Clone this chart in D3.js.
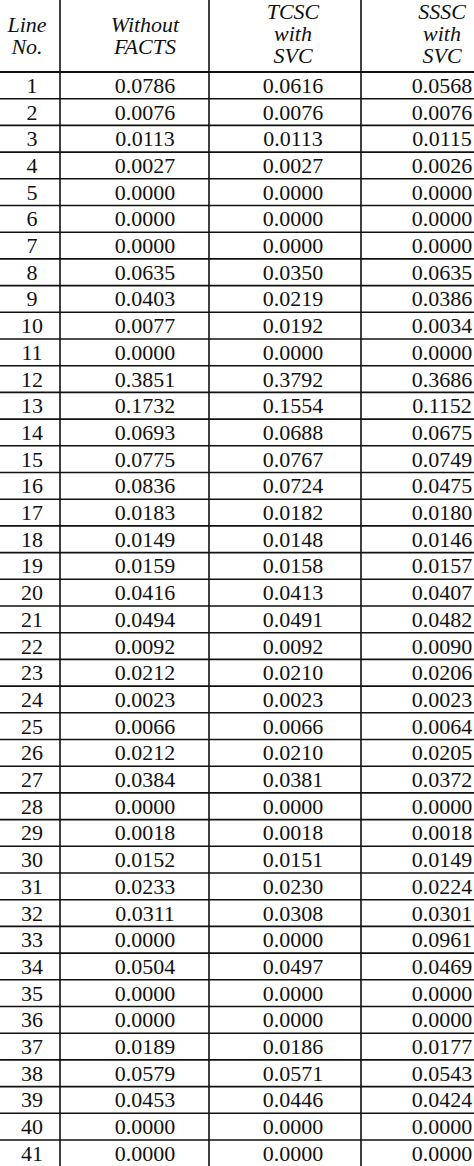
<!DOCTYPE html><html><head><meta charset="utf-8">
<script src="https://cdn.jsdelivr.net/npm/d3@7"></script>
<style>body{margin:0;background:#fff}</style></head><body>
<script>
const lineNo = d3.range(1, 42);
const withoutFACTS = ["0.0786","0.0076","0.0113","0.0027","0.0000","0.0000","0.0000","0.0635","0.0403","0.0077","0.0000","0.3851","0.1732","0.0693","0.0775","0.0836","0.0183","0.0149","0.0159","0.0416","0.0494","0.0092","0.0212","0.0023","0.0066","0.0212","0.0384","0.0000","0.0018","0.0152","0.0233","0.0311","0.0000","0.0504","0.0000","0.0000","0.0189","0.0579","0.0453","0.0000","0.0000"];
const tcscSVC = ["0.0616","0.0076","0.0113","0.0027","0.0000","0.0000","0.0000","0.0350","0.0219","0.0192","0.0000","0.3792","0.1554","0.0688","0.0767","0.0724","0.0182","0.0148","0.0158","0.0413","0.0491","0.0092","0.0210","0.0023","0.0066","0.0210","0.0381","0.0000","0.0018","0.0151","0.0230","0.0308","0.0000","0.0497","0.0000","0.0000","0.0186","0.0571","0.0446","0.0000","0.0000"];
const ssscSVC = ["0.0568","0.0076","0.0115","0.0026","0.0000","0.0000","0.0000","0.0635","0.0386","0.0034","0.0000","0.3686","0.1152","0.0675","0.0749","0.0475","0.0180","0.0146","0.0157","0.0407","0.0482","0.0090","0.0206","0.0023","0.0064","0.0205","0.0372","0.0000","0.0018","0.0149","0.0224","0.0301","0.0961","0.0469","0.0000","0.0000","0.0177","0.0543","0.0424","0.0000","0.0000"];
const headers = [["Line","No."],["Without","FACTS"],["TCSC","with","SVC"],["SSSC","with","SVC"]];

const W=474,H=1166, headH=72;
const colEdges=[60,209,361];
const textX=[32,145,293,442];
const svg=d3.select("body").append("svg").attr("width",W).attr("height",H);
const y=d3.scaleBand().domain(lineNo).range([headH, headH+41*26.7]);
const g=svg.append("g").attr("font-family","'Liberation Serif'").attr("font-size",22).attr("fill","#111");
colEdges.forEach(x=>svg.append("line").attr("x1",x).attr("x2",x).attr("y1",0).attr("y2",H).attr("stroke","#111").attr("stroke-width",1.6));
svg.append("line").attr("x1",0).attr("x2",W).attr("y1",headH).attr("y2",headH).attr("stroke","#111").attr("stroke-width",1.8);
lineNo.forEach(n=>svg.append("line").attr("x1",0).attr("x2",W).attr("y1",y(n)+y.bandwidth()).attr("y2",y(n)+y.bandwidth()).attr("stroke","#111").attr("stroke-width",1.6));
headers.forEach((h,i)=>{
  const startY = h.length===2?32:19;
  h.forEach((t,j)=>g.append("text").attr("x",i===0?27:textX[i]).attr("y",startY+j*22).attr("text-anchor","middle").attr("font-style","italic").text(t));
});
const cols=[lineNo.map(String),withoutFACTS,tcscSVC,ssscSVC];
cols.forEach((c,i)=>c.forEach((v,k)=>g.append("text").attr("x",textX[i]).attr("y",y(lineNo[k])+y.bandwidth()/2+7.5).attr("text-anchor","middle").text(v)));
</script></body></html>
